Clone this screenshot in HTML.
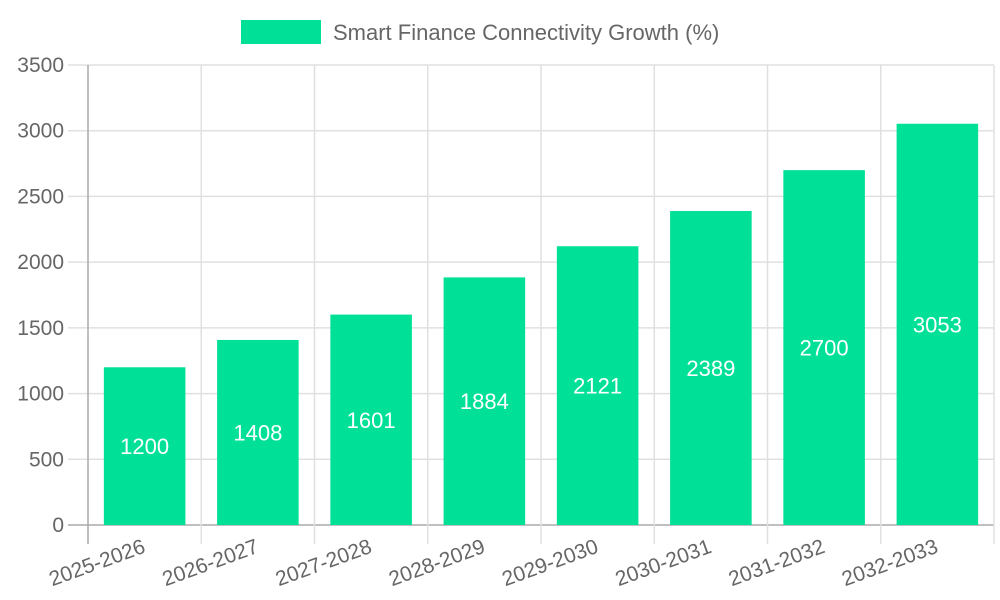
<!DOCTYPE html>
<html><head><meta charset="utf-8"><style>
html,body{margin:0;padding:0;background:#fff;}
svg{display:block;font-family:"Liberation Sans",sans-serif;}
</style></head><body>
<svg id="chart" width="1000" height="600">
<g>
<rect x="241" y="20" width="80" height="24" fill="#00E096"></rect>
<text x="333" y="40" font-size="22" fill="#666">Smart Finance Connectivity Growth (%)</text>
</g>
</svg>
<script>
const categories=["2025-2026","2026-2027","2027-2028","2028-2029","2029-2030","2030-2031","2031-2032","2032-2033"];
const values=[1200,1408,1601,1884,2121,2389,2700,3053];
const yTicks=[0,500,1000,1500,2000,2500,3000,3500];
const svg=document.getElementById('chart');
const NS='http://www.w3.org/2000/svg';
const L=88,R=994,T=65,B=525,yMax=3500;
const step=(R-L)/categories.length;
const y=v=>B-(v/yMax)*(B-T);
const xc=i=>L+step*(i+0.5);
function mk(t,a,p){const e=document.createElementNS(NS,t);for(const k in a)e.setAttribute(k,a[k]);(p||svg).appendChild(e);return e;}
const grid=mk('g',{});


yTicks.forEach(v=>{
 const l=mk('line',{x1:68,x2:R,y1:y(v),y2:y(v),stroke:v===0?'#aaa':'#e0e0e0','stroke-width':1.5},grid);
 
 
 const t=mk('text',{x:64,y:y(v)+7,'text-anchor':'end','font-size':21,fill:'#666'});
 t.textContent=v;
 
 
});
for(let i=0;i<=categories.length;i++){
 const x=L+step*i;
 const l=mk('line',{x1:x,x2:x,y1:T,y2:544,stroke:i===0?'#aaa':'#e0e0e0','stroke-width':1.5},grid);
 
 
}
const bw=step*0.72;
categories.forEach((c,i)=>{
 const b=mk('rect',{x:xc(i)-bw/2,y:y(values[i]),width:bw,height:B-y(values[i]),fill:'#00E096'});
 
 
 const vt=mk('text',{x:xc(i),y:(y(values[i])+B)/2+8,'text-anchor':'middle','font-size':22,fill:'#fff'});
 vt.textContent=values[i];
 
 
 const xt=mk('text',{x:0,y:0,'text-anchor':'end','font-size':21,fill:'#666',transform:`translate(${xc(i)+2},${552}) rotate(-20)`});
 xt.textContent=c;
 
 
});
</script>
</body></html>
